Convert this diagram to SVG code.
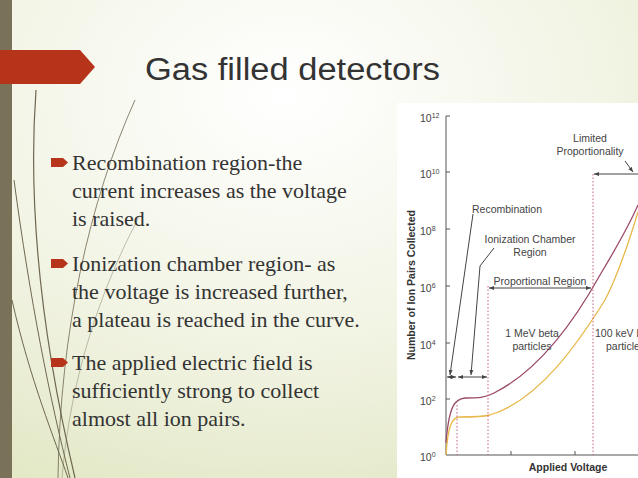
<svg xmlns="http://www.w3.org/2000/svg" width="638" height="478" viewBox="0 0 638 478">
<defs>
<radialGradient id="bg" cx="0.45" cy="0.2" r="0.9">
<stop offset="0" stop-color="#ffffff"/><stop offset="0.6" stop-color="#f1f3e2"/><stop offset="1" stop-color="#e3e8c6"/>
</radialGradient>
<marker id="ah" viewBox="0 0 10 10" refX="10" refY="5" markerWidth="5" markerHeight="5" orient="auto-start-reverse"><path d="M0,1 L10,5 L0,9 z" fill="#444"/></marker>
</defs>
<style>
.bt{font-family:"Liberation Serif",serif;font-size:22px;fill:#333}
.gl{font-family:"Liberation Sans",Arial,sans-serif;font-size:10.5px;fill:#444}
.ax{font-family:"Liberation Sans",Arial,sans-serif;font-size:10.5px;fill:#444}
.dot{stroke:#c8607a;stroke-width:1;stroke-dasharray:1.5,2;fill:none}
.ar{stroke:#444;stroke-width:1;fill:none}
.deco{stroke:#6e6750;fill:none}
</style>
<rect width="638" height="478" fill="url(#bg)"/>
<g id="decor">
<rect x="0" y="0" width="12" height="478" fill="#7a7159"/>
<path class="deco" stroke-width="1.2" d="M36,90 C28,200 40,330 75,478"/>
<path class="deco" stroke-width="1" d="M14,180 C30,300 50,400 70,478"/>
<path class="deco" stroke-width="0.8" d="M135,100 C90,200 60,330 58,478"/>
<path class="deco" stroke-width="0.8" opacity="0.5" d="M140,215 C100,290 70,380 62,478"/>
<path class="deco" stroke-width="1" d="M12,300 C30,380 55,440 68,478"/>
</g>
<g id="banner"><path d="M0,50 L80,50 L95,67 L80,84 L0,84 z" fill="#b5341a"/></g>
<text id="title" x="145" y="80" font-family="'URW Gothic','Liberation Sans',sans-serif" font-size="31" fill="#333" textLength="295" lengthAdjust="spacingAndGlyphs">Gas filled detectors</text>
<g id="bullets" fill="#b5341a">
<path d="M51,158 L63,158 L68,162.5 L63,167 L51,167 z"/>
<path d="M51,259 L63,259 L68,263.5 L63,268 L51,268 z"/>
<path d="M51,358 L63,358 L68,362.5 L63,367 L51,367 z"/>
</g>
<g id="text">
<text class="bt" x="72" y="170">Recombination region-the</text>
<text class="bt" x="72" y="198">current increases as the voltage</text>
<text class="bt" x="72" y="226">is raised.</text>
<text class="bt" x="72" y="271">Ionization chamber region- as</text>
<text class="bt" x="72" y="299">the voltage is increased further,</text>
<text class="bt" x="72" y="327">a plateau is reached in the curve.</text>
<text class="bt" x="72" y="370">The applied electric field is</text>
<text class="bt" x="72" y="398">sufficiently strong to collect</text>
<text class="bt" x="72" y="426">almost all ion pairs.</text>
</g>
<g id="chart">
<rect x="397" y="103" width="241" height="375" fill="#fff"/>
<g stroke="#555" stroke-width="1" fill="none">
<path d="M446,116 L446,455 L638,455"/>
<path d="M446,116 h4 M446,172 h4 M446,229 h4 M446,286 h4 M446,343 h4 M446,399 h4 M511,455 v-4 M575,455 v-4"/>
</g>
<g class="ax">
<text x="420" y="122">10<tspan font-size="7" dy="-4">12</tspan></text>
<text x="420" y="178">10<tspan font-size="7" dy="-4">10</tspan></text>
<text x="420" y="235">10<tspan font-size="7" dy="-4">8</tspan></text>
<text x="420" y="292">10<tspan font-size="7" dy="-4">6</tspan></text>
<text x="420" y="349">10<tspan font-size="7" dy="-4">4</tspan></text>
<text x="420" y="405">10<tspan font-size="7" dy="-4">2</tspan></text>
<text x="420" y="461">10<tspan font-size="7" dy="-4">0</tspan></text>
</g>
<text x="415" y="285" transform="rotate(-90 415 285)" text-anchor="middle" font-family="'Liberation Sans',Arial,sans-serif" font-size="10.5" font-weight="bold" fill="#333">Number of Ion Pairs Collected</text>
<text x="568" y="471" text-anchor="middle" font-family="'Liberation Sans',Arial,sans-serif" font-size="10.5" font-weight="bold" fill="#333">Applied Voltage</text>
<path d="M446,443 C449,405 455,399 465,398 C478,398 485,398 494,393 C540,370 575,320 600,275 C615,250 628,228 638,205" fill="none" stroke="#9b4a6a" stroke-width="1.3"/>
<path d="M446,455 C448,425 452,417 460,417 C475,417 482,417 490,415 C540,400 580,340 605,300 C618,275 628,245 638,212" fill="none" stroke="#e8b84a" stroke-width="1.3"/>
<path class="dot" d="M457,405 V455 M488,286 V455 M593,174 V455"/>
</g>
<g id="connectors">
<path class="ar" marker-start="url(#ah)" marker-end="url(#ah)" d="M447,377 H456"/>
<path class="ar" marker-start="url(#ah)" marker-end="url(#ah)" d="M458,377 H487"/>
<path class="ar" marker-start="url(#ah)" marker-end="url(#ah)" d="M489,288 H591"/>
<path class="ar" marker-start="url(#ah)" d="M594,174 H638"/>
<path class="ar" marker-end="url(#ah)" d="M473,214 L450,375"/>
<path class="ar" marker-end="url(#ah)" d="M494,248 L480,266 L471,375"/>
<path class="ar" marker-end="url(#ah)" d="M625,161 L633,172"/>
</g>
<g id="labels" class="gl" text-anchor="middle">
<text x="507" y="213">Recombination</text>
<text x="530" y="243">Ionization Chamber</text>
<text x="530" y="256">Region</text>
<text x="540" y="285">Proportional Region</text>
<text x="590" y="142">Limited</text>
<text x="590" y="155">Proportionality</text>
<text x="532" y="337">1 MeV beta</text>
<text x="532" y="350">particles</text>
<text x="595" y="337" text-anchor="start">100 keV b</text>
<text x="606" y="350" text-anchor="start">particle</text>
</g>
</svg>
